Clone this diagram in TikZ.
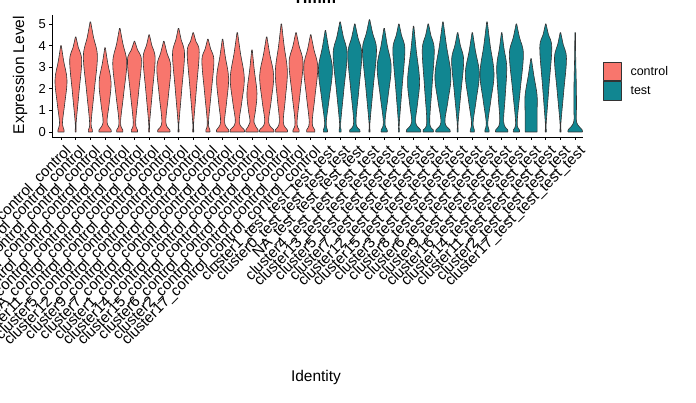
\documentclass[tikz,border=0pt]{standalone}
\usepackage{fontspec}
\setmainfont{Liberation Sans}
\usetikzlibrary{positioning}
\definecolor{ctrlred}{RGB}{248,118,109}
\definecolor{testteal}{RGB}{17,134,145}
\tikzset{violin/.style={draw=black!80,line width=0.6pt,line join=round},
  ticklab/.style={font=\fontsize{15}{15}\selectfont,rotate=45,anchor=north east,inner sep=0pt}}
\begin{document}
\begin{tikzpicture}[x=1pt,y=1pt]
\clip (0,0) rectangle (696,402);
\useasboundingbox (0,0) rectangle (696,402);

% title, cut at the top
\node [font=\bfseries\fontsize{16}{16}\selectfont,anchor=base] (title) at (316,398) {Hmm};

% violins: index/top/mid/width/neck/bottom
\foreach \i/\t/\m/\w/\n/\b in {1/4.0/2.4/6/1.5/3,2/4.4/3.3/6/0.5/0.5,3/5.1/3.5/7/0.8/2,
  4/3.9/2.3/6/2/6,5/4.8/3.2/7/0.8/3,6/4.2/3.3/7/1.2/3,7/4.5/3.4/6/0.5/0.5,8/4.2/3.0/7/2/6,
  9/4.8/3.6/6/0.5/0.5,10/4.6/3.7/6/0.5/0.5,11/4.3/3.3/6/0.6/2,12/4.3/2.5/6/2/6,
  13/4.6/2.5/7/2/7,14/3.8/1.8/5/2/6,15/4.4/2.6/7/2/7,16/5.0/2.8/6/2/6,17/4.6/3.2/7/1/3,18/4.5/3.0/7/1.5/4}
{
  \pgfmathsetmacro\xx{61+14.69*(\i-1)}
  \draw [violin,fill=ctrlred]
    plot [smooth,tension=0.6] coordinates {({\xx+0.3},{270+21.6*\t}) ({\xx+0.45*\w},{270+21.6*(\m+0.55*(\t-\m))})
      ({\xx+\w},{270+21.6*\m}) ({\xx+0.5*(\w+\n)},{270+21.6*0.55*\m}) ({\xx+\n},{270+21.6*0.45}) ({\xx+\b},{270+21.6*0.1}) ({\xx+\b},270)}
    -- plot [smooth,tension=0.6] coordinates {({\xx-\b},270) ({\xx-\b},{270+21.6*0.1}) ({\xx-\n},{270+21.6*0.45})
      ({\xx-0.5*(\w+\n)},{270+21.6*0.55*\m}) ({\xx-\w},{270+21.6*\m}) ({\xx-0.45*\w},{270+21.6*(\m+0.55*(\t-\m))}) ({\xx-0.3},{270+21.6*\t})}
    -- cycle;
}
\foreach \i/\t/\m/\w/\n/\b in {19/4.7/2.9/7/0.8/2,20/5.1/3.6/7/0.6/1,21/5.0/3.6/7/1.2/5,22/5.2/3.8/7/0.5/0.5,
  23/4.8/3.0/7/0.8/3,24/5.0/3.8/6/0.5/0.5,25/4.9/2.4/6/2/7,26/5.0/3.8/6/1.5/5,27/5.1/2.6/8/2/7,
  28/4.6/3.3/6/0.5/0.5,29/4.6/2.7/7/0.8/2,30/5.1/2.7/7/0.8/2,31/4.6/3.0/5/2/6,32/5.0/3.6/7/0.8/3,
  33/3.4/1.7/6/6/6,34/5.0/3.9/6/0.5/0.5,35/4.6/3.4/6/0.5/0.5,36/4.6/2.1/1.2/1.5/7}
{
  \pgfmathsetmacro\xx{61+14.69*(\i-1)}
  \draw [violin,fill=testteal]
    plot [smooth,tension=0.6] coordinates {({\xx+0.3},{270+21.6*\t}) ({\xx+0.45*\w},{270+21.6*(\m+0.55*(\t-\m))})
      ({\xx+\w},{270+21.6*\m}) ({\xx+0.5*(\w+\n)},{270+21.6*0.55*\m}) ({\xx+\n},{270+21.6*0.45}) ({\xx+\b},{270+21.6*0.1}) ({\xx+\b},270)}
    -- plot [smooth,tension=0.6] coordinates {({\xx-\b},270) ({\xx-\b},{270+21.6*0.1}) ({\xx-\n},{270+21.6*0.45})
      ({\xx-0.5*(\w+\n)},{270+21.6*0.55*\m}) ({\xx-\w},{270+21.6*\m}) ({\xx-0.45*\w},{270+21.6*(\m+0.55*(\t-\m))}) ({\xx-0.3},{270+21.6*\t})}
    -- cycle;
}

% axes
\draw [line width=0.8pt] (52,387) -- (52,265) -- (583,265);
\foreach \v in {0,...,5}
{
  \draw [line width=0.6pt] (49,{270+21.6*\v}) -- (52,{270+21.6*\v});
  \node [anchor=east,font=\fontsize{13}{13}\selectfont,inner sep=0pt] (ylab\v) at (46,{270+21.6*\v}) {\v};
}
\foreach \c [count=\i] in {cluster4,cluster0,cluster13,cluster8,cluster3,cluster16,NA,cluster11,cluster5,
  cluster12,cluster9,cluster7,cluster1,cluster14,cluster15,cluster6,cluster2,cluster17}
{
  \pgfmathsetmacro\xx{61+14.69*(\i-1)}
  \draw [line width=0.6pt] (\xx,265) -- (\xx,262);
  \node [ticklab] (xlab\i) at ({\xx+3},258) {\c\_control\_control\_control\_control};
}
\foreach \c [count=\i from 19] in {cluster1,cluster0,NA,cluster4,cluster13,cluster5,cluster7,cluster12,cluster15,
  cluster3,cluster8,cluster6,cluster9,cluster16,cluster14,cluster11,cluster2,cluster17}
{
  \pgfmathsetmacro\xx{61+14.69*(\i-1)}
  \draw [line width=0.6pt] (\xx,265) -- (\xx,262);
  \node [ticklab] (xlab\i) at ({\xx+3},258) {\c\_test\_test\_test\_test};
}

% axis titles
\node [rotate=90,font=\fontsize{15.5}{16}\selectfont] (ytitle) at (20,327) {Expression Level};
\node [font=\fontsize{15.5}{16}\selectfont] (xtitle) at (316,25) {Identity};

% legend
\draw [violin,fill=ctrlred] (603,340) rectangle (621,322);
\draw [violin,fill=testteal] (603,321) rectangle (621,302);
\node [anchor=west,font=\fontsize{12.5}{13}\selectfont] (legctrl) at (627,331) {control};
\node [anchor=west,font=\fontsize{12.5}{13}\selectfont] (legtest) at (627,311) {test};
\end{tikzpicture}
\end{document}
